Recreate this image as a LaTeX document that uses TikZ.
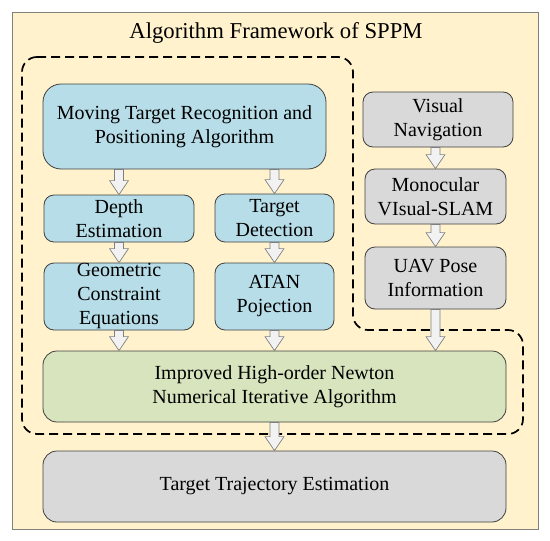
\documentclass[tikz,border=0pt]{standalone}
\usepackage{fontspec}
\setmainfont{Liberation Serif}
\usetikzlibrary{calc}
\definecolor{bgyellow}{HTML}{FFF2CC}
\definecolor{outerline}{HTML}{7F7F7F}
\definecolor{boxline}{HTML}{404040}
\definecolor{bluefill}{HTML}{B7DDE8}
\definecolor{grayfill}{HTML}{D9D9D9}
\definecolor{greenfill}{HTML}{D7E4BD}
\definecolor{arrowfill}{HTML}{F2F2F2}
\definecolor{arrowline}{HTML}{7F7F7F}
\newcommand\bodyfont{\fontsize{20}{24}\selectfont}
\newcommand\titlefont{\fontsize{22.7}{27}\selectfont}
\newcommand\barrow[2]{%
  \draw[blockarrow] let \p1=(#1), \p2=(#2) in
    (\x1-4.5pt,\y1) -- (\x1-4.5pt,\y2+14pt) -- (\x1-9.5pt,\y2+14pt) -- (\x1,\y2)
    -- (\x1+9.5pt,\y2+14pt) -- (\x1+4.5pt,\y2+14pt) -- (\x1+4.5pt,\y1) -- cycle;}
\tikzset{
  basebox/.style={draw=boxline, line width=0.8pt, rounded corners=10pt, align=center,
    inner sep=0pt, font=\bodyfont, text=black},
  bluebox/.style={basebox, fill=bluefill},
  graybox/.style={basebox, fill=grayfill},
  greenbox/.style={basebox, fill=greenfill},
  blockarrow/.style={draw=arrowline, fill=arrowfill, line width=0.7pt, line join=miter},
  groupline/.style={draw=black, line width=1.7pt, dash pattern=on 9pt off 5pt, rounded corners=15pt}
}
\begin{document}
\begin{tikzpicture}[x=1pt,y=-1pt]
\useasboundingbox (0,0) rectangle (550,541);
\draw[draw=outerline, fill=bgyellow, line width=1pt] (12,12) rectangle (538,529);
\node[font=\titlefont, inner sep=0pt] (title) at (276,33) {Algorithm Framework of SPPM};
\path[groupline] (22,57) -- (353,57) -- (353,330) -- (523,330) -- (523,434) -- (22,434) -- cycle;
\node[bluebox, minimum width=283pt, minimum height=85pt, rounded corners=18pt] (mtr) at (184.5,126.5)
  {Moving Target Recognition and\\Positioning Algorithm};
\node[bluebox, minimum width=150pt, minimum height=47pt] (depth) at (119,218.5) {Depth\\Estimation};
\node[bluebox, minimum width=119pt, minimum height=48pt] (tdet) at (274.5,218) {Target\\Detection};
\node[bluebox, minimum width=150pt, minimum height=67pt] (geo) at (119,296.5) {Geometric\\Constraint\\Equations};
\node[bluebox, minimum width=119pt, minimum height=67pt] (atan) at (274.5,296.5) {ATAN\\Pojection};
\node[graybox, minimum width=150pt, minimum height=55pt] (vnav) at (438,119.5) {Visual\\Navigation};
\node[graybox, minimum width=141pt, minimum height=55pt] (mono) at (435.5,196.5) {Monocular\\VIsual-SLAM};
\node[graybox, minimum width=141pt, minimum height=62pt] (uav) at (435.5,278) {UAV Pose\\Information};
\node[greenbox, minimum width=463pt, minimum height=71pt, rounded corners=14pt] (newton) at (274.5,386.5)
  {Improved High-order Newton\\Numerical Iterative Algorithm};
\node[graybox, minimum width=463pt, minimum height=71pt, rounded corners=14pt] (traj) at (274.5,486.5)
  {Target Trajectory Estimation};
\barrow{mtr.south -| depth.north}{depth.north}
\barrow{mtr.south -| tdet.north}{tdet.north}
\barrow{depth.south}{geo.north}
\barrow{tdet.south}{atan.north}
\barrow{vnav.south -| mono.north}{mono.north}
\barrow{mono.south}{uav.north}
\barrow{geo.south}{newton.north -| geo.south}
\barrow{atan.south}{newton.north -| atan.south}
\barrow{uav.south}{newton.north -| uav.south}
\barrow{newton.south}{traj.north}
\end{tikzpicture}
\end{document}
